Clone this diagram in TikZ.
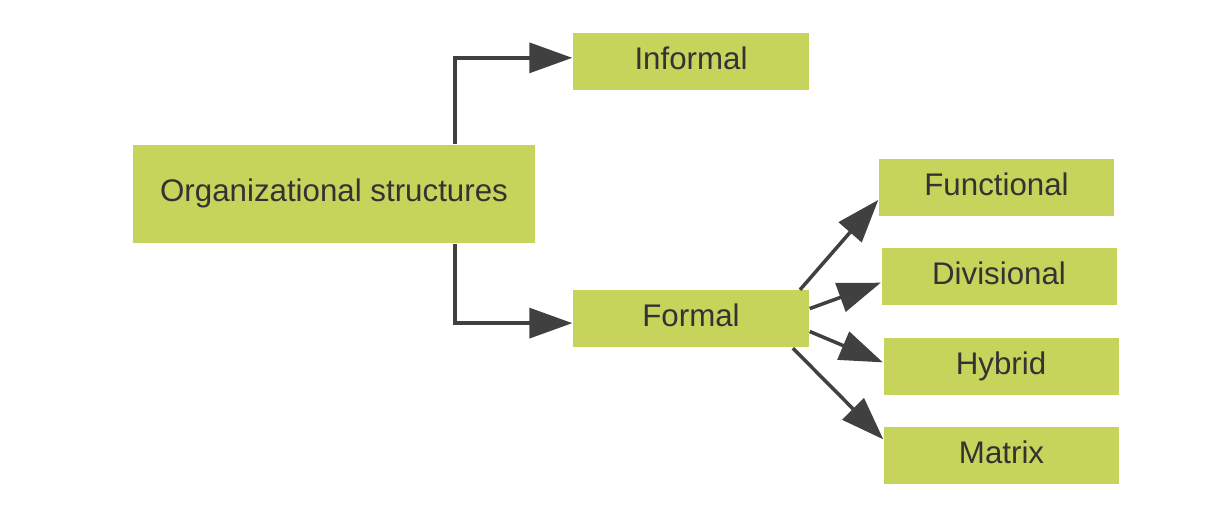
\documentclass[tikz,border=0pt]{standalone}
\usepackage{fontspec}
\setmainfont{Liberation Sans}
\usepackage{xcolor}
\definecolor{orggreen}{RGB}{199,212,92}
\definecolor{orgarrow}{RGB}{64,64,64}
\definecolor{orgtext}{RGB}{51,51,51}
\usepackage{tikz}
\usetikzlibrary{arrows.meta, positioning, calc}

\begin{document}
\begin{tikzpicture}[
  orgbox/.style={fill=orggreen, text=orgtext, inner sep=0pt, minimum width=2.36cm, minimum height=0.57cm,
    font=\fontsize{8.9pt}{10.7pt}\selectfont, text height=0.7em, text depth=0.25em},
  orglink/.style={draw=orgarrow, line width=1pt, -{Triangle[length=0.43cm, width=0.3cm]}}
]
  \useasboundingbox (0,0) rectangle (12.1,5.15);

  % Root
  \node[orgbox, minimum width=4.02cm, minimum height=0.98cm] (org) at (3.34,3.21) {Organizational structures};

  % First level
  \node[orgbox] (informal) at (6.91,4.53) {Informal};
  \node[orgbox] (formal) at (6.91,1.96) {Formal};

  % Kinds of formal structure
  \node[orgbox, minimum width=2.35cm] (functional) at (9.965,3.275) {Functional};
  \node[orgbox, minimum width=2.35cm] (divisional) at (9.99,2.385) {Divisional};
  \node[orgbox, minimum width=2.35cm] (hybrid) at (10.01,1.485) {Hybrid};
  \node[orgbox, minimum width=2.35cm] (matrix) at (10.015,0.59) {Matrix};

  % Connectors
  \draw[orglink] ($(org.north west)!0.8!(org.north east)$) |- (informal.178);
  \draw[orglink] ($(org.south west)!0.8!(org.south east)$) |- (formal.182);

  \draw[orglink] (formal.15) -- (functional.186);
  \draw[orglink] (formal.5) -- (divisional.183);
  \draw[orglink] (formal.-6) -- (hybrid.178);
  \draw[orglink] (formal.-16) -- (matrix.172);
\end{tikzpicture}
\end{document}
